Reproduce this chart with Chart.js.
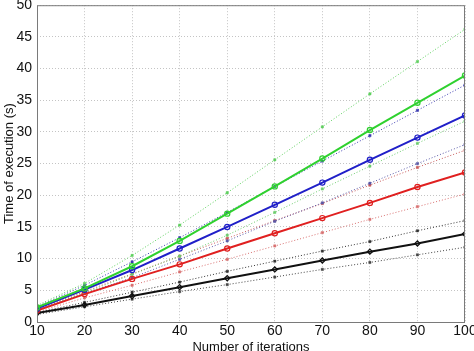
<!DOCTYPE html>
<html>
<head>
<meta charset="utf-8">
<script src="https://cdn.jsdelivr.net/npm/chart.js@4/dist/chart.umd.min.js"></script>
<style>
  html, body { margin: 0; padding: 0; background: #fff; overflow: hidden; }
  #wrap { width: 474px; height: 358px; }
</style>
</head>
<body>
<div id="wrap"><canvas id="chart" width="474" height="358"></canvas></div>
<script>
// Time of execution vs number of iterations

const iterations = [10, 20, 30, 40, 50, 60, 70, 80, 90, 100];

const greenMain  = [2.3, 5.3, 8.8, 12.8, 17.1, 21.4, 25.8, 30.3, 34.6, 38.9];
const greenHigh  = [2.6, 6.1, 10.5, 15.3, 20.4, 25.6, 30.8, 36.0, 41.1, 46.2];
const greenLow   = [2.0, 4.6, 7.5, 10.4, 13.7, 17.3, 21.0, 24.6, 28.2, 31.7];

const blueMain   = [2.1, 5.1, 8.2, 11.6, 15.0, 18.5, 22.0, 25.6, 29.1, 32.6];
const blueHigh   = [2.4, 5.8, 9.5, 13.3, 17.3, 21.4, 25.4, 29.4, 33.4, 37.4];
const blueLow    = [1.9, 4.5, 7.0, 9.9, 12.8, 15.9, 18.8, 21.9, 25.0, 28.0];

const redMain    = [1.8, 4.4, 6.8, 9.1, 11.6, 14.0, 16.4, 18.8, 21.3, 23.6];
const redHigh    = [2.0, 4.8, 7.6, 10.4, 13.2, 16.0, 18.7, 21.6, 24.4, 27.1];
const redLow     = [1.6, 3.8, 5.8, 7.9, 9.9, 12.0, 14.1, 16.2, 18.2, 20.2];

const blackMain  = [1.4, 2.7, 4.1, 5.5, 6.9, 8.3, 9.7, 11.1, 12.4, 13.9];
const blackHigh  = [1.5, 3.1, 4.7, 6.3, 8.0, 9.6, 11.2, 12.7, 14.4, 16.0];
const blackLow   = [1.2, 2.4, 3.6, 4.8, 5.9, 7.1, 8.3, 9.4, 10.6, 11.8];

const xTicks = [10, 20, 30, 40, 50, 60, 70, 80, 90, 100];
const yTicks = [0, 5, 10, 15, 20, 25, 30, 35, 40, 45, 50];

const FONT = '"Liberation Sans", Arial, sans-serif';

function toPoints(values) {
    return values.map((v, i) => ({ x: iterations[i], y: v }));
}

function dotted(values, color) {
    return {
        data: toPoints(values),
        borderColor: color,
        backgroundColor: color,
        borderWidth: 1,
        borderDash: [1, 2],
        pointStyle: 'rect',
        pointRadius: 1.6,
        pointBorderWidth: 0.5,
        order: 2
    };
}

function solid(values, color, marker) {
    return {
        data: toPoints(values),
        borderColor: color,
        backgroundColor: 'rgba(255,255,255,0)',
        borderWidth: 2,
        pointStyle: marker,
        pointRadius: 2.6,
        pointBorderWidth: 1.2,
        order: 1
    };
}

const frame = {
    id: 'frame',
    afterDraw(chart) {
        const { ctx, chartArea: a } = chart;
        ctx.save();
        ctx.strokeStyle = '#7a7a7a';
        ctx.lineWidth = 1;
        ctx.strokeRect(a.left + 0.5, a.top + 0.5, a.right - a.left - 1, a.bottom - a.top);
        ctx.restore();
    }
};

new Chart(document.getElementById('chart'), {
    type: 'line',
    data: {
        datasets: [
            dotted(greenHigh, '#5fd05f'),
            dotted(greenLow, '#6ccc6c'),
            dotted(blueHigh, '#3a3ab0'),
            dotted(blueLow, '#5a5aa8'),
            dotted(redHigh, '#c85a5a'),
            dotted(redLow, '#d87070'),
            dotted(blackHigh, '#333333'),
            dotted(blackLow, '#444444'),
            solid(greenMain, '#2fd12f', 'circle'),
            solid(blueMain, '#2020c8', 'circle'),
            solid(redMain, '#e02020', 'circle'),
            solid(blackMain, '#111111', 'rectRot')
        ]
    },
    options: {
        responsive: false,
        animation: false,
        layout: { padding: { top: 5, right: 9, left: 0, bottom: 0 } },
        plugins: {
            legend: { display: false },
            tooltip: { enabled: false }
        },
        scales: {
            x: {
                type: 'linear',
                min: 10,
                max: 100,
                afterBuildTicks: s => { s.ticks = xTicks.map(v => ({ value: v })); },
                afterFit: s => { s.height = 36; s.paddingLeft = 0; s.paddingRight = 0; },
                grid: { color: '#c4c4c4', borderDash: [1, 2], drawTicks: false },
                border: { display: false, dash: [1, 2] },
                ticks: { color: '#111', font: { family: FONT, size: 14 }, padding: 1, maxRotation: 0 },
                title: {
                    display: true,
                    text: 'Number of iterations',
                    color: '#111',
                    font: { family: FONT, size: 13 },
                    padding: { top: 0, bottom: 3 }
                }
            },
            y: {
                min: 0,
                max: 50,
                afterBuildTicks: s => { s.ticks = yTicks.map(v => ({ value: v })); },
                afterFit: s => { s.width = 37; s.paddingTop = 0; s.paddingBottom = 0; },
                grid: { color: '#c4c4c4', borderDash: [1, 2], drawTicks: false },
                border: { display: false, dash: [1, 2] },
                ticks: { color: '#111', font: { family: FONT, size: 14 }, padding: 5 },
                title: {
                    display: true,
                    text: 'Time of execution (s)',
                    color: '#111',
                    font: { family: FONT, size: 13 },
                    padding: { top: 2, bottom: 0 }
                }
            }
        }
    },
    plugins: [frame]
});
</script>
</body>
</html>
